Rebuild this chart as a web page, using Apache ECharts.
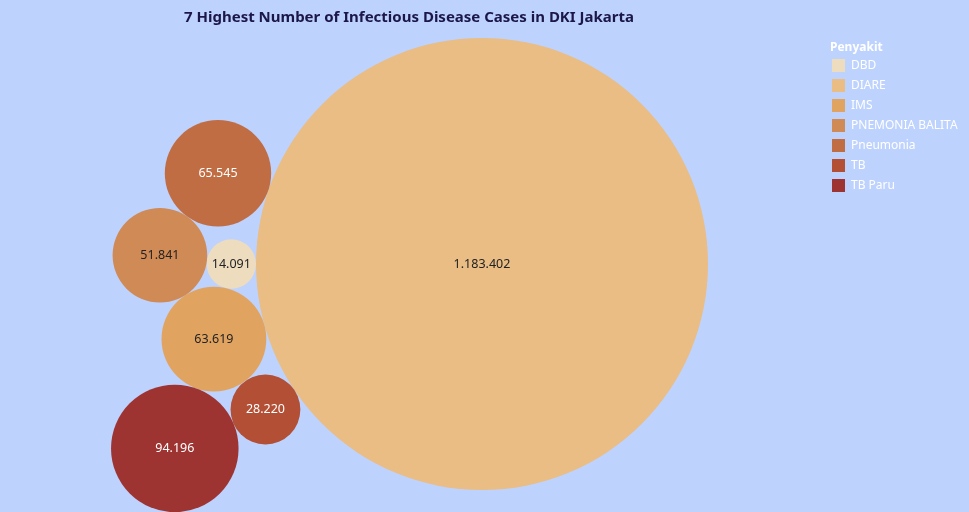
<!DOCTYPE html>
<html><head><meta charset="utf-8">
<script src="https://cdn.jsdelivr.net/npm/echarts@6/dist/echarts.min.js"></script>
<style>html,body{margin:0;padding:0;background:#BED2FE}#c{width:969px;height:512px}</style>
</head><body><div id="c"></div>
<script>
const categories = ['DBD','DIARE','IMS','PNEMONIA BALITA','Pneumonia','TB','TB Paru'];
const cases = [14091, 1183402, 63619, 51841, 65545, 28220, 94196];
const colors = ['#EEDCBF','#E9BD84','#E1A460','#D08A56','#C16D44','#B24F35','#9E3432'];
const labelColors = ['#222222','#222222','#222222','#222222','#FFFFFF','#FFFFFF','#FFFFFF'];
// packing order: [category index, anchor A index, anchor B index, side]
const packing = [[1,null,null,0],[0,1,null,0],[2,1,0,-1],[3,0,2,1],[4,1,3,1],[5,1,2,-1],[6,2,5,1]];

const maxR = 226;
const maxV = Math.max(...cases);
const rad = cases.map(v => maxR * Math.sqrt(v / maxV));
const pos = [];
packing.forEach(([i, a, b, s]) => {
  if (a === null) { pos[i] = [0, 0]; return; }
  if (b === null) { pos[i] = [pos[a][0] - rad[a] - rad[i], pos[a][1]]; return; }
  const A = pos[a], B = pos[b];
  const dx = B[0]-A[0], dy = B[1]-A[1], d = Math.hypot(dx, dy);
  const ra = rad[a] + rad[i], rb = rad[b] + rad[i];
  const x = (d*d + ra*ra - rb*rb) / (2*d);
  const h = Math.sqrt(Math.max(0, ra*ra - x*x));
  const ux = dx/d, uy = dy/d;
  pos[i] = [A[0] + x*ux + s*h*(-uy), A[1] + x*uy + s*h*ux];
});
const fmt = v => String(v).replace(/\B(?=(\d{3})+(?!\d))/g, '.');

const chart = echarts.init(document.getElementById('c'));
chart.setOption({
  backgroundColor: '#BED2FE',
  animation: false,
  title: [{
    text: '7 Highest Number of Infectious Disease Cases in DKI Jakarta',
    left: 409, top: 10, textAlign: 'center', padding: 0,
    textStyle: {color: '#1B1748', fontSize: 15, fontWeight: 'bold', fontFamily: 'Noto Sans'}
  },{
    text: 'Penyakit', left: 830, top: 42, padding: 0,
    textStyle: {color: '#FFFFFF', fontSize: 12, fontWeight: 'bold', fontFamily: 'Noto Sans'}
  }],
  legend: {
    orient: 'vertical', left: 832, top: 59, icon: 'rect', padding: 0,
    itemWidth: 13, itemHeight: 13, itemGap: 7,
    data: categories,
    textStyle: {color: '#FFFFFF', fontSize: 12, fontFamily: 'Noto Sans', padding: [0,0,0,1]}
  },
  grid: {left: 0, right: 0, top: 0, bottom: 0},
  xAxis: {type: 'value', min: -482, max: 487, show: false},
  yAxis: {type: 'value', min: -264, max: 248, inverse: true, show: false},
  series: categories.map((c, i) => ({
    name: c, type: 'scatter',
    itemStyle: {color: colors[i], opacity: 1},
    symbolSize: rad[i] * 2,
    data: [{value: [pos[i][0], pos[i][1]], name: c}],
    label: {show: true, position: 'inside', formatter: () => fmt(cases[i]),
      color: labelColors[i], fontSize: 12.5, fontFamily: 'Noto Sans'},
    emphasis: {disabled: true}
  }))
});
</script></body></html>
